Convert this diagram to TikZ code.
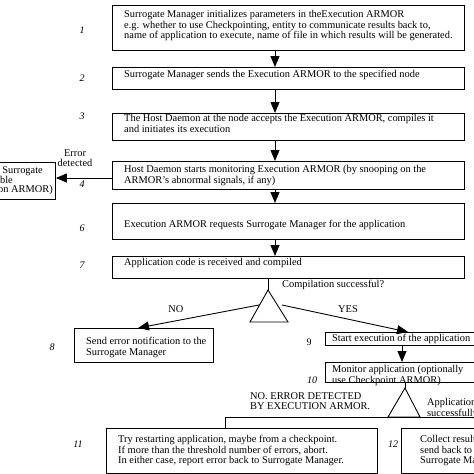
\documentclass[tikz,border=0pt]{standalone}
\usepackage{fontspec}
\setmainfont{Liberation Serif}
\usetikzlibrary{arrows.meta}
\begin{document}
\begin{tikzpicture}[x=1pt,y=-1pt,
  box/.style={draw, line width=0.9pt, inner sep=0pt, anchor=north west},
  txt/.style={inner sep=0pt, anchor=north west, align=left, font=\fontsize{10.4}{10.5}\selectfont},
  num/.style={inner sep=0pt, font=\fontsize{10}{12}\selectfont\itshape},
  lbl/.style={inner sep=0pt, font=\fontsize{10.4}{10.5}\selectfont},
  arr/.style={line width=0.9pt, -{Triangle[length=11pt,width=9pt]}},
  ln/.style={line width=0.9pt}]
\useasboundingbox (0,0) rectangle (474,474);
% boxes
\node[box, minimum width=352pt, minimum height=45pt] (b1) at (112,5) {};
\node[box, minimum width=352pt, minimum height=22pt] (b2) at (112,67) {};
\node[box, minimum width=352pt, minimum height=27pt] (b3) at (112,113) {};
\node[box, minimum width=352pt, minimum height=28pt] (b4) at (112,161) {};
\node[box, minimum width=115pt, minimum height=37pt] (b5) at (-60,162) {};
\node[box, minimum width=352pt, minimum height=36pt] (b6) at (112,203) {};
\node[box, minimum width=352pt, minimum height=22pt] (b7) at (112,256) {};
\node[box, minimum width=139pt, minimum height=34pt] (b8) at (74,328) {};
\node[box, minimum width=170pt, minimum height=13pt] (b9) at (325,332) {};
\node[box, minimum width=170pt, minimum height=20pt] (b10) at (325,362) {};
\node[box, minimum width=271pt, minimum height=45pt] (b11) at (106,428) {};
\node[box, minimum width=120pt, minimum height=45pt] (b12) at (401,428) {};
% texts
\node[txt] (t1) at (124,10.1) {Surrogate Manager initializes parameters in theExecution ARMOR\\e.g. whether to use Checkpointing, entity to communicate results back to,\\name of application to execute, name of file in which results will be generated.};
\node[txt] (t2) at (124,70.1) {Surrogate Manager sends the Execution ARMOR to the specified node};
\node[txt] (t3) at (124,114.1) {The Host Daemon at the node accepts the Execution ARMOR, compiles it\\and initiates its execution};
\node[txt] (t4) at (124,165.1) {Host Daemon starts monitoring Execution ARMOR (by snooping on the\\ARMOR's abnormal signals, if any)};
\node[lbl, anchor=base east] (t5a) at (43,173.4) {Inform Surrogate};
\node[lbl, anchor=base east] (t5b) at (13,183.4) {Manager (possible};
\node[lbl, anchor=base east] (t5c) at (53,192.4) {failure of Execution ARMOR)};
\node[txt] (t6) at (124,220.1) {Execution ARMOR requests Surrogate Manager for the application};
\node[txt] (t7) at (124,258.1) {Application code is received and compiled};
\node[txt] (t8) at (86,337.1) {Send error notification to the\\Surrogate Manager};
\node[txt] (t9) at (332,333.6) {Start execution of the application};
\node[txt] (t10) at (332,365.1) {Monitor application (optionally\\use Checkpoint ARMOR)};
\node[txt] (t11) at (118,435.1) {Try restarting application, maybe from a checkpoint.\\If more than the threshold number of errors, abort.\\In either case, report error back to Surrogate Manager.};
\node[txt] (t12) at (420,435.1) {Collect results and\\send back to\\Surrogate Manager.};
% step numbers
\node[num] (n1) at (82,30) {1};
\node[num] (n2) at (82,78) {2};
\node[num] (n3) at (82,116) {3};
\node[num] (n4) at (82,184) {4};
\node[num] (n6) at (82,228) {6};
\node[num] (n7) at (82,265) {7};
\node[num] (n8) at (52,347) {8};
\node[num, font=\fontsize{10}{12}\selectfont] (n9) at (309,342) {9};
\node[num] (n10) at (312,380) {10};
\node[num] (n11) at (78,444) {11};
\node[num] (n12) at (393,444) {12};
% labels
\node[lbl, align=center] (err) at (75,158) {Error\\detected};
\node[lbl, anchor=west] (comp) at (282,284.5) {Compilation successful?};
\node[lbl] (no) at (176,309) {NO};
\node[lbl] (yes) at (348,309) {YES};
\node[txt] (noerr) at (250,392.1) {NO. ERROR DETECTED\\BY EXECUTION ARMOR.};
\node[txt] (appl) at (427,398.1) {Application\\successfully};
% x positions
\coordinate (xm) at (275,0);
\coordinate (xt) at (268,0);
\coordinate (xa) at (402,0);
\coordinate (xb) at (405,0);
\coordinate (xno) at (138,0);
\coordinate (xyes) at (408,0);
\coordinate (ya) at (0,178);
% triangles
\coordinate (tri1) at (268,290);
\coordinate (tri1l) at (250,322);
\coordinate (tri1r) at (288,322);
\draw[ln] (tri1) -- (tri1l) -- (tri1r) -- cycle;
\coordinate (tri2) at (405,388);
\coordinate (tri2l) at (388,417);
\coordinate (tri2r) at (420,417);
\draw[ln] (tri2) -- (tri2l) -- (tri2r) -- cycle;
\coordinate (nos) at (259,305);
\coordinate (yess) at (282,305);
\coordinate (hl) at (225,417);
\coordinate (hr) at (480,417);
% connectors
\draw[arr] (b1.south -| xm) -- (b2.north -| xm);
\draw[arr] (b2.south -| xm) -- (b3.north -| xm);
\draw[arr] (b3.south -| xm) -- (b4.north -| xm);
\draw[arr] (b4.west |- ya) -- (b5.east |- ya);
\draw[arr] (b4.south -| xm) -- (b6.north -| xm);
\draw[arr] (b6.south -| xm) -- (b7.north -| xm);
\draw[ln] (b7.south -| xt) -- (tri1);
\draw[arr] (nos) -- (b8.north -| xno);
\draw[arr] (yess) -- (b9.north -| xyes);
\draw[arr] (b9.south -| xa) -- (b10.north -| xa);
\draw[ln] (b10.south -| xb) -- (tri2);
\draw[ln] (hl) -- (hr);
\draw[ln] (hl) -- (b11.north -| hl);
\end{tikzpicture}
\end{document}
